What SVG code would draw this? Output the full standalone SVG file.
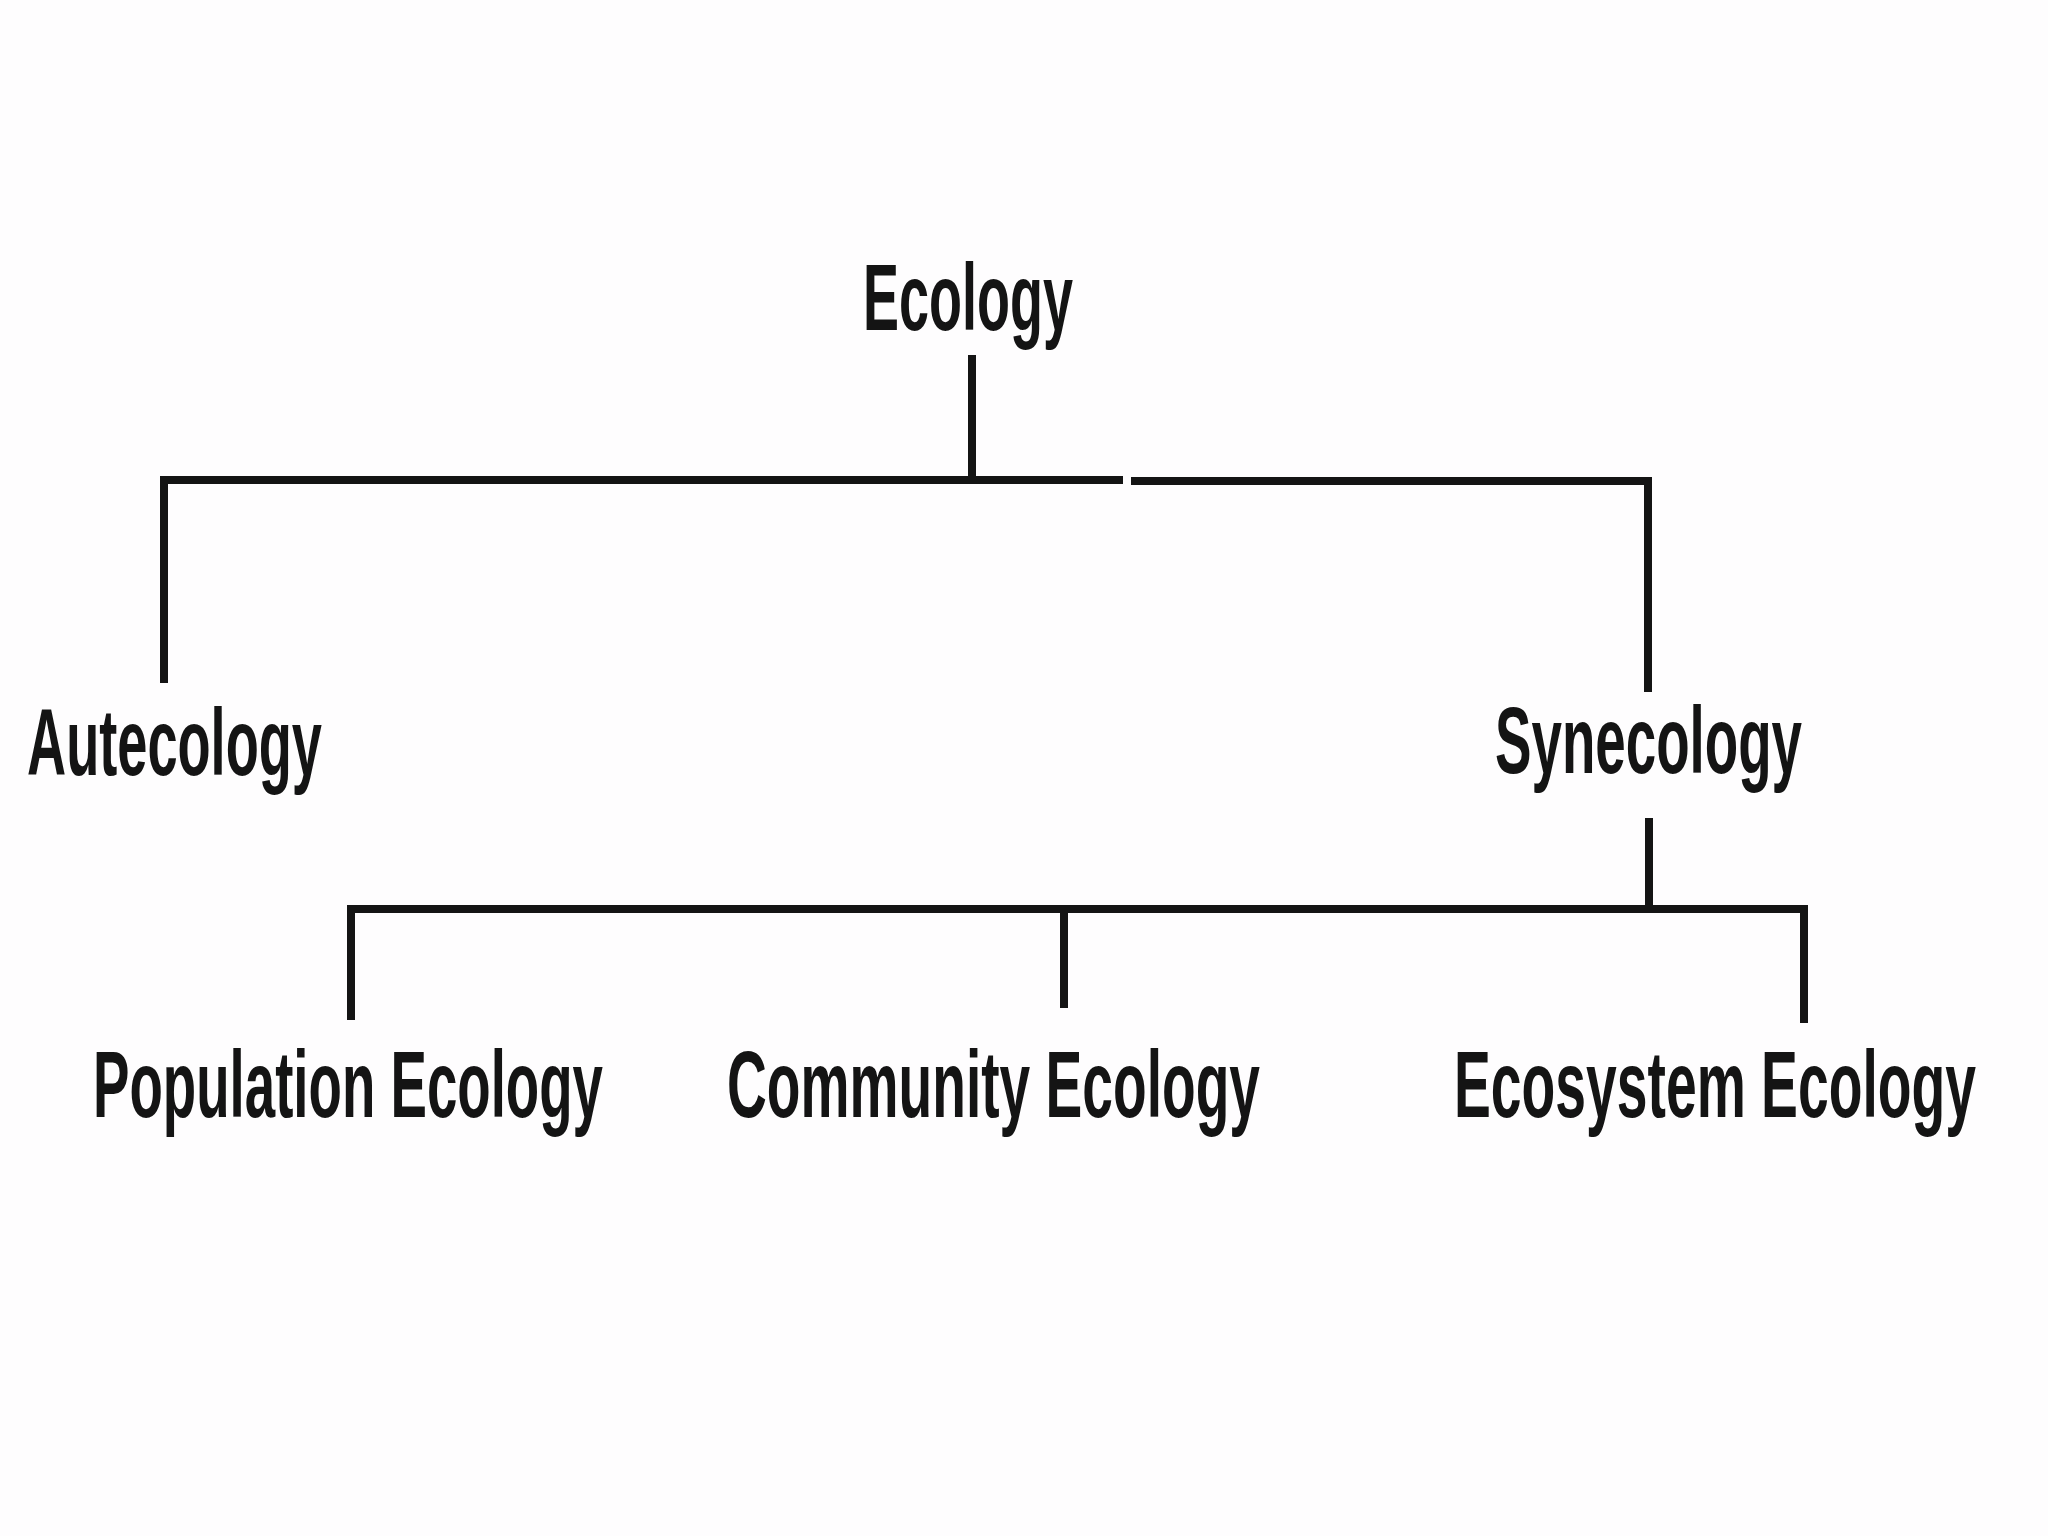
<svg xmlns="http://www.w3.org/2000/svg" width="2048" height="1536" viewBox="0 0 2048 1536">
<style>
.lbl{font-family:"Liberation Sans",Arial,sans-serif;font-size:55px;font-weight:bold;fill:#141414;}
.ln{fill:none;stroke:#141414;stroke-width:8;stroke-linejoin:miter;stroke-linecap:butt;}
</style>
<rect width="2048" height="1536" fill="#fefdfe"/>
<g id="connectors">
<line class="ln" x1="972" y1="355" x2="972" y2="480"/>
<polyline class="ln" points="164,683 164,480 1123,480"/>
<polyline class="ln" points="1131,481 1648,481 1648,692"/>
<line class="ln" x1="1649" y1="818" x2="1649" y2="909"/>
<polyline class="ln" points="351,1020 351,909 1804,909 1804,1023"/>
<line class="ln" x1="1064" y1="909" x2="1064" y2="1008"/>
</g>
<g id="ecology"><text class="lbl" transform="translate(863,330) scale(1,1.727)" textLength="210" lengthAdjust="spacingAndGlyphs">Ecology</text></g>
<g id="autecology"><text class="lbl" transform="translate(27,775) scale(1,1.727)" textLength="295" lengthAdjust="spacingAndGlyphs">Autecology</text></g>
<g id="synecology"><text class="lbl" transform="translate(1495,773) scale(1,1.727)" textLength="307" lengthAdjust="spacingAndGlyphs">Synecology</text></g>
<g id="population"><text class="lbl" transform="translate(93,1117) scale(1,1.727)" textLength="510" lengthAdjust="spacingAndGlyphs">Population Ecology</text></g>
<g id="community"><text class="lbl" transform="translate(727,1117) scale(1,1.727)" textLength="533" lengthAdjust="spacingAndGlyphs">Community Ecology</text></g>
<g id="ecosystem"><text class="lbl" transform="translate(1454,1117) scale(1,1.727)" textLength="522" lengthAdjust="spacingAndGlyphs">Ecosystem Ecology</text></g>
</svg>
